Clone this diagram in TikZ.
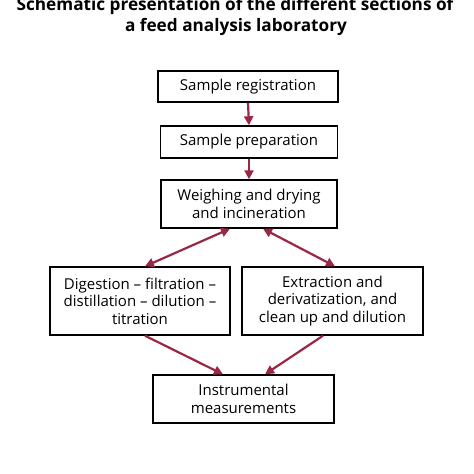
\documentclass[tikz,border=0pt]{standalone}
\usepackage{fontspec}
\setmainfont{Open Sans}
\usetikzlibrary{arrows.meta}
\definecolor{arr}{HTML}{9A2845}
\tikzset{
  box/.style={draw=black, line width=1.4pt, align=center, inner sep=0pt, font=\fontsize{15}{17.5}\selectfont},
  flow/.style={draw=arr, line width=2.2pt, -{Triangle[length=9pt,width=9pt]}},
  dflow/.style={draw=arr, line width=2.2pt, {Triangle[length=9pt,width=9pt]}-{Triangle[length=9pt,width=9pt]}},
}
\begin{document}
\begin{tikzpicture}[x=1pt,y=-1pt]
\clip (0,0) rectangle (474,474);
\useasboundingbox (0,0) rectangle (474,474);
\fill[white] (0,0) rectangle (474,474);
\node[font=\fontsize{17.2}{20}\selectfont\bfseries] (t1) at (235,6) {Schematic presentation of the different sections of};
\node[font=\fontsize{17.2}{20}\selectfont\bfseries] (t2) at (236,27) {a feed analysis laboratory};
\node[box, minimum width=180pt, minimum height=31pt] (b1) at (248,86.5) {Sample registration};
\node[box, minimum width=177pt, minimum height=32pt] (b2) at (249,142) {Sample preparation};
\node[box, minimum width=176pt, minimum height=48pt] (b3) at (249,204) {Weighing and drying\\and incineration};
\node[box, minimum width=180pt, minimum height=68pt] (b4) at (140,301) {Digestion -- filtration --\\distillation -- dilution --\\titration};
\node[box, minimum width=181pt, minimum height=68pt] (b5) at (332.5,301) {Extraction and\\derivatization, and\\clean up and dilution};
\node[box, minimum width=181pt, minimum height=48pt] (b6) at (243.5,399) {Instrumental\\measurements};
\draw[flow] (b1.south) -- (b2.north);
\draw[flow] (b2.south) -- (b3.north);
\draw[dflow] ([xshift=5pt]b4.north) -- ([xshift=-19pt]b3.south);
\draw[dflow] ([xshift=14pt]b3.south) -- ([xshift=2.5pt]b5.north);
\draw[flow] ([xshift=5pt]b4.south) -- ([xshift=-20.5pt]b6.north);
\draw[flow] ([xshift=-9.5pt]b5.south) -- ([xshift=21.5pt]b6.north);
\end{tikzpicture}
\end{document}
